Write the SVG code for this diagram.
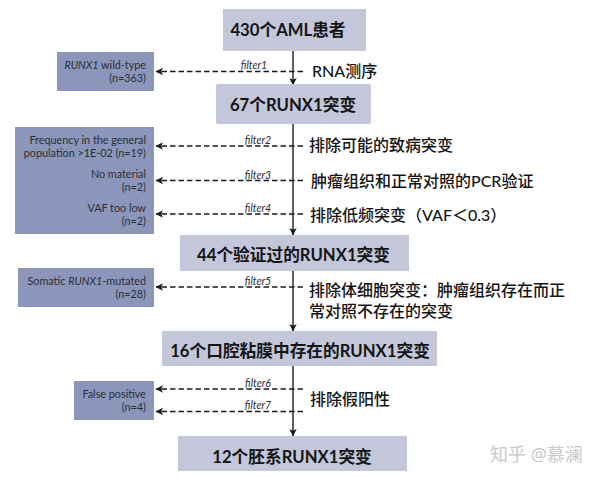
<svg xmlns="http://www.w3.org/2000/svg" width="600" height="479" viewBox="0 0 600 479">
<style>
text{font-family:"Noto Sans","Noto Sans CJK SC",sans-serif}
.m{fill:#c4c6d9}
.s{fill:#8c96ba}
.t{font-size:16.7px;font-weight:700;fill:#141416;text-anchor:middle;font-family:"Lato","Noto Sans CJK SC",sans-serif}
.l{font-size:10.800px;fill:#2b2d38;text-anchor:end;font-family:"Lato","Noto Sans",sans-serif}
.f{font-size:10.500px;font-style:italic;fill:#2b2b32;text-anchor:middle;font-family:"Lato","Noto Sans",sans-serif}
.r{font-size:16px;font-weight:500;fill:#141416;font-family:"Lato","Noto Sans CJK SC",sans-serif}
.solid{stroke:#1a1a1a;stroke-width:1.4;fill:none;marker-end:url(#a)}
.dash{stroke:#1a1a1a;stroke-width:1.4;fill:none;stroke-dasharray:5.500 3;marker-end:url(#a)}
</style>
<defs><marker id="a" markerUnits="userSpaceOnUse" markerWidth="9" markerHeight="9" refX="7" refY="4.500" orient="auto"><path d="M0,0.800 L7.500,4.500 L0,8.200 L1.800,4.500 Z" fill="#1a1a1a"/></marker></defs>
<rect width="600" height="479" fill="#fff"/>
<g id="connectors">
<path class="solid" d="M293 51V85"/>
<path class="solid" d="M293 124V235"/>
<path class="solid" d="M293 271V331"/>
<path class="solid" d="M293 366V436"/>
<path class="dash" d="M303 71.500H156"/>
<path class="dash" d="M303 146H156"/>
<path class="dash" d="M303 180.500H156"/>
<path class="dash" d="M303 214H156"/>
<path class="dash" d="M303 287H156"/>
<path class="dash" d="M303 389H156"/>
<path class="dash" d="M303 411.500H156"/>
<text class="f" x="254" y="69">filter1</text>
<text class="f" x="258" y="144">filter2</text>
<text class="f" x="258" y="179">filter3</text>
<text class="f" x="258" y="212">filter4</text>
<text class="f" x="258" y="285">filter5</text>
<text class="f" x="258" y="387">filter6</text>
<text class="f" x="258" y="409">filter7</text>
</g>
<g id="n1"><rect class="m" x="223" y="9" width="143" height="42"/><text class="t" x="288" y="36">430个AML患者</text></g>
<g id="n2"><rect class="m" x="216" y="84" width="155" height="40" rx="2"/><text class="t" x="293" y="111">67个RUNX1突变</text></g>
<g id="n3"><rect class="m" x="180" y="235" width="229" height="36"/><text class="t" x="293.500" y="261">44个验证过的RUNX1突变</text></g>
<g id="n4"><rect class="m" x="162" y="331" width="275" height="35"/><text class="t" x="300" y="357">16个口腔粘膜中存在的RUNX1突变</text></g>
<g id="n5"><rect class="m" x="178" y="436" width="229" height="35"/><text class="t" x="292" y="463">12个胚系RUNX1突变</text></g>
<g id="s1"><rect class="s" x="57" y="52" width="97" height="39"/><text class="l" x="146" y="69"><tspan font-style="italic">RUNX1</tspan> wild-type</text><text class="l" x="146" y="82">(n=363)</text></g>
<g id="s2"><rect class="s" x="15" y="127" width="139" height="107"/><text class="l" x="146" y="144">Frequency in the general</text><text class="l" x="146" y="157">population &gt;1E-02 (n=19)</text><text class="l" x="146" y="178">No material</text><text class="l" x="146" y="191">(n=2)</text><text class="l" x="146" y="212">VAF too low</text><text class="l" x="146" y="225">(n=2)</text></g>
<g id="s3"><rect class="s" x="18" y="268" width="136" height="39"/><text class="l" x="146" y="285">Somatic <tspan font-style="italic">RUNX1</tspan>-mutated</text><text class="l" x="146" y="298">(n=28)</text></g>
<g id="s4"><rect class="s" x="74" y="381" width="80" height="39"/><text class="l" x="146" y="398">False positive</text><text class="l" x="146" y="411">(n=4)</text></g>
<g id="notes">
<text class="r" x="312" y="77">RNA测序</text>
<text class="r" x="309" y="151">排除可能的致病突变</text>
<text class="r" x="311" y="187">肿瘤组织和正常对照的PCR验证</text>
<text class="r" x="310" y="221">排除低频突变（VAF＜0.3）</text>
<text class="r" x="309" y="296">排除体细胞突变：肿瘤组织存在而正</text>
<text class="r" x="309" y="317">常对照不存在的突变</text>
<text class="r" x="310" y="405">排除假阳性</text>
</g>
<text x="490" y="461" font-size="18" fill="#c9c9c9">知乎 @慕澜</text>
</svg>
